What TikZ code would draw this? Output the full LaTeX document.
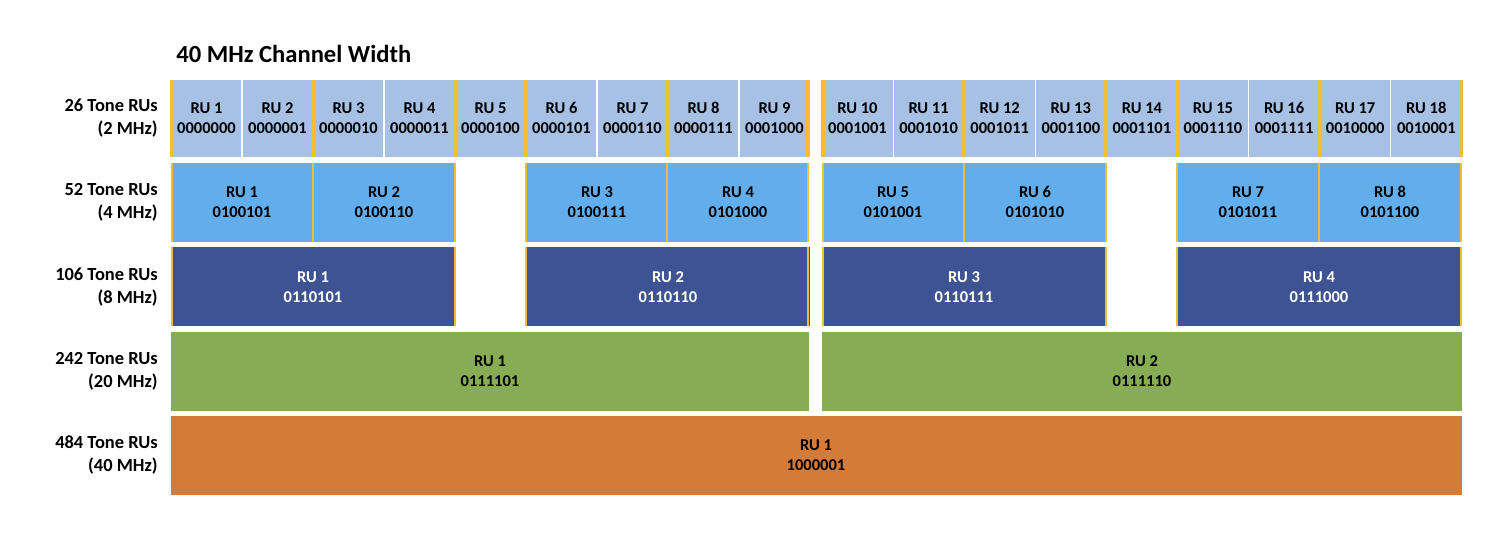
\documentclass[tikz,border=0pt]{standalone}
\usepackage{fontspec}
\setmainfont{Carlito}
\definecolor{ruA}{HTML}{A7C1E5}
\definecolor{ruB}{HTML}{62AEEC}
\definecolor{ruC}{HTML}{3E5393}
\definecolor{ruD}{HTML}{86AD53}
\definecolor{ruE}{HTML}{D47B3A}
\definecolor{edgeY}{HTML}{F0BE32}
\begin{document}
\begin{tikzpicture}
        [x=0.02cm, y=-0.02cm,
        ru/.style={font=\fontsize{9.4}{11.5}\selectfont\bfseries, align=center, inner sep=0pt},
        rowlab/.style={font=\fontsize{10.5}{13}\selectfont\bfseries, align=right, anchor=east, inner sep=0pt},
        divider/.style={white, line width=0.6pt},
        mark26/.style={edgeY, line width=2pt}]

        \useasboundingbox (0,0) rectangle (1507,541);

        % title
        \node[anchor=west, inner sep=0pt, font=\fontsize{14}{16}\selectfont\bfseries] (title) at (176,54) {40 MHz Channel Width};

        % row labels
        \node[rowlab] (l26) at (158,118) {26 Tone RUs\\(2 MHz)};
        \node[rowlab] (l52) at (158,202) {52 Tone RUs\\(4 MHz)};
        \node[rowlab] (l106) at (158,287) {106 Tone RUs\\(8 MHz)};
        \node[rowlab] (l242) at (158,371) {242 Tone RUs\\(20 MHz)};
        \node[rowlab] (l484) at (158,455) {484 Tone RUs\\(40 MHz)};

        % 26 tone RUs
        \foreach \i/\code in {1/0000000,2/0000001,3/0000010,4/0000011,5/0000100,6/0000101,7/0000110,8/0000111,9/0001000,
          10/0001001,11/0001010,12/0001011,13/0001100,14/0001101,15/0001110,16/0001111,17/0010000,18/0010001} {
          \pgfmathsetmacro{\xa}{\i<10 ? 171+71*(\i-1) : 822+71.1*(\i-10)}
          \fill[ruA] (\xa,80) rectangle ++(71,77);
          \draw[divider] (\xa,80) -- ++(0,77);
          \node[ru] (a\i) at (\xa+35.5,118) {RU \i\\\code};
        }

        % 52 tone RUs
        \foreach \i/\xa/\code in {1/171/0100101,2/313/0100110,3/526/0100111,4/667/0101000,
          5/822/0101001,6/964/0101010,7/1177/0101011,8/1319/0101100} {
          \fill[ruB] (\xa,163) rectangle ++(142,79);
          \node[ru] (b\i) at (\xa+71,202) {RU \i\\\code};
        }

        % 106 tone RUs
        \foreach \i/\xa/\code in {1/171/0110101,2/526/0110110,3/822/0110111,4/1177/0111000} {
          \fill[ruC] (\xa,247) rectangle ++(284,79);
          \node[ru, white] (c\i) at (\xa+142,287) {RU \i\\\code};
        }

        % 242 tone RUs
        \fill[ruD] (171,332) rectangle (809,411);
        \node[ru] (d1) at (490,371) {RU 1\\0111101};
        \fill[ruD] (822,332) rectangle (1462,411);
        \node[ru] (d2) at (1142,371) {RU 2\\0111110};

        % 484 tone RU
        \fill[ruE] (171,416) rectangle (1462,495);
        \node[ru] (e1) at (816,455) {RU 1\\1000001};

        % yellow edge marks
        \foreach \xm in {172,313,455,526,667,808,823,964,1106,1177,1319,1461} {
          \draw[mark26] (\xm,80) -- (\xm,157);
        }
        \foreach \xm in {172,313,455,526,667,808,823,964,1106,1177,1319,1461} {
          \draw[mark26, line width=1.2pt] (\xm,163) -- (\xm,242);
        }
        \foreach \xm in {172,455,526,808,823,1106,1177,1461} {
          \draw[mark26, line width=1.2pt] (\xm,247) -- (\xm,326);
        }

        \end{tikzpicture}
\end{document}
